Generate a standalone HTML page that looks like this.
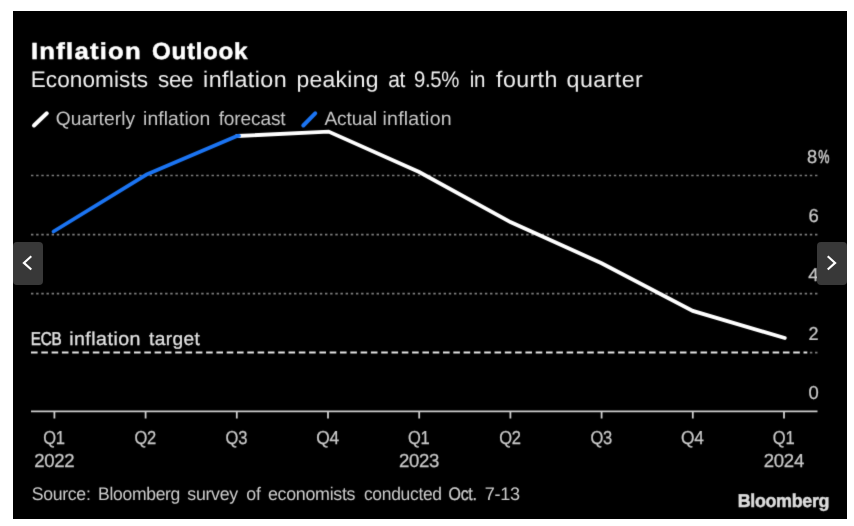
<!DOCTYPE html>
<html>
<head>
<meta charset="utf-8">
<title>Inflation Outlook</title>
<style>
  html, body { margin: 0; padding: 0; background: #ffffff; }
  body { width: 854px; height: 526px; position: relative; overflow: hidden;
         font-family: "Liberation Sans", sans-serif; }
  .panel { position: absolute; left: 13px; top: 11px; width: 834px; height: 507.7px; background: #000; overflow: hidden; }
  svg { position: absolute; left: 0; top: 0; }
  #chart { filter: url(#soft); }
  svg text { font-family: "Liberation Sans", sans-serif; }
  .nav { position: absolute; top: 231px; width: 30px; height: 43px; background: #383838; }
  #navl { left: 0; border-radius: 4px; }
  #navr { right: 0; border-radius: 4px; }
</style>
</head>
<body>
<svg width="0" height="0" style="position:absolute"><defs>
  <filter id="soft" x="0" y="0" width="100%" height="100%" color-interpolation-filters="sRGB">
    <feConvolveMatrix order="3" kernelMatrix="0.0113 0.0838 0.0113 0.0838 0.6196 0.0838 0.0113 0.0838 0.0113" divisor="1" edgeMode="duplicate" preserveAlpha="false"/>
  </filter></defs></svg>
<div class="panel">
  <svg id="chart" width="834" height="508" viewBox="0 0 834 508">
    <!-- grid -->
    <g stroke="#7e7e7e" stroke-width="1.6" stroke-dasharray="2.4 2.758" stroke-dashoffset="0" fill="none">
      <line x1="18" y1="164.55" x2="805.5" y2="164.55"/>
      <line x1="18" y1="223.6" x2="805.5" y2="223.6"/>
      <line x1="18" y1="282.65" x2="805.5" y2="282.65"/>
      <line x1="796.9" y1="341.6" x2="805" y2="341.6" stroke-dashoffset="0"/>
    </g>
    <!-- ECB target -->
    <line x1="18" y1="341.6" x2="794.3" y2="341.6" stroke="#e6e6e6" stroke-width="2" stroke-dasharray="6.6 3.7"/>
    <!-- axis -->
    <line x1="18" y1="400.4" x2="804.5" y2="400.4" stroke="#cccccc" stroke-width="1.9"/>
    <g stroke="#cccccc" stroke-width="1.8">
      <line x1="41.4" y1="400" x2="41.4" y2="407.5"/>
      <line x1="132.6" y1="400" x2="132.6" y2="407.5"/>
      <line x1="223.8" y1="400" x2="223.8" y2="407.5"/>
      <line x1="315" y1="400" x2="315" y2="407.5"/>
      <line x1="406.2" y1="400" x2="406.2" y2="407.5"/>
      <line x1="497.4" y1="400" x2="497.4" y2="407.5"/>
      <line x1="588.6" y1="400" x2="588.6" y2="407.5"/>
      <line x1="679.8" y1="400" x2="679.8" y2="407.5"/>
      <line x1="771" y1="400" x2="771" y2="407.5"/>
    </g>
    <!-- series -->
    <polyline points="224,125 315.6,120.6 406.2,161 497.4,211.1 588.6,252.2 679.8,299.9 771.8,327" fill="none" stroke="#ffffff" stroke-width="3.8" stroke-linejoin="miter" stroke-linecap="round"/>
    <polyline points="40.5,220.5 133,163.8 224,125 226,124.9" fill="none" stroke="#1b74f2" stroke-width="3.8" stroke-linejoin="round" stroke-linecap="round"/>
    <!-- legend swatches -->
    <line x1="21" y1="114.5" x2="33.8" y2="102.3" stroke="#ffffff" stroke-width="4" stroke-linecap="round"/>
    <line x1="290.3" y1="114.5" x2="302.2" y2="102.3" stroke="#1b74f2" stroke-width="4" stroke-linecap="round"/>
<g font-size="23.3" font-weight="bold" fill="#ffffff" stroke="#ffffff" stroke-width="0.45">
<text transform="translate(17.89 48.30) scale(1.1084 1) skewX(0.2)" letter-spacing="1.080">Inflation</text>
<text transform="translate(139.10 48.30) scale(1.0418 1) skewX(0.2)" letter-spacing="0.588">Outlook</text>
</g>
<g font-size="22.5" font-weight="normal" fill="#f0f0f0">
<text transform="translate(17.69 75.80) scale(1.0050 1) skewX(0.2)" letter-spacing="0.064">Economists</text>
<text transform="translate(145.00 75.80) scale(1.0000 1) skewX(0.2)" letter-spacing="-0.332">see</text>
<text transform="translate(190.06 75.80) scale(1.0399 1) skewX(0.2)" letter-spacing="0.364">inflation</text>
<text transform="translate(283.38 75.80) scale(1.0220 1) skewX(0.2)" letter-spacing="0.277">peaking</text>
<text transform="translate(375.20 75.80) scale(0.9393 1) skewX(0.2)" letter-spacing="-0.350">at</text>
<text transform="translate(400.89 75.80) scale(0.9060 1) skewX(0.2)" letter-spacing="-0.350">9.5%</text>
<text transform="translate(456.69 75.80) scale(0.9138 1) skewX(0.2)" letter-spacing="-0.350">in</text>
<text transform="translate(483.10 75.80) scale(1.0323 1) skewX(0.2)" letter-spacing="0.356">fourth</text>
<text transform="translate(553.50 75.80) scale(1.0355 1) skewX(0.2)" letter-spacing="0.411">quarter</text>
</g>
<g font-size="19.2" font-weight="normal" fill="#c8c8c8">
<text transform="translate(42.70 114.40) scale(1.0031 1) skewX(0.2)" letter-spacing="0.030">Quarterly</text>
<text transform="translate(130.09 114.40) scale(1.0088 1) skewX(0.2)" letter-spacing="0.070">inflation</text>
<text transform="translate(205.70 114.40) scale(1.0000 1) skewX(0.2)" letter-spacing="-0.189">forecast</text>
</g>
<g font-size="19.2" font-weight="normal" fill="#c8c8c8">
<text transform="translate(311.50 114.40) scale(1.0000 1) skewX(0.2)" letter-spacing="-0.173">Actual</text>
<text transform="translate(369.48 114.40) scale(1.0235 1) skewX(0.2)" letter-spacing="0.185">inflation</text>
</g>
<g font-size="18.6" font-weight="normal" fill="#e2e2e2" stroke="#e2e2e2" stroke-width="0.25">
<text transform="translate(17.78 334.20) scale(0.8220 1) skewX(0.2)" letter-spacing="-0.350" stroke="#e2e2e2" stroke-width="0.46">ECB</text>
<text transform="translate(56.14 334.20) scale(1.0578 1) skewX(0.2)" letter-spacing="0.429">inflation</text>
<text transform="translate(136.10 334.20) scale(1.0322 1) skewX(0.2)" letter-spacing="0.302">target</text>
</g>
<g font-size="18.2" font-weight="normal" fill="#cdcdcd">
<text transform="translate(18.70 489.10) scale(0.9760 1) skewX(0.2)" letter-spacing="-0.350">Source:</text>
<text transform="translate(85.03 489.10) scale(0.9670 1) skewX(0.2)" letter-spacing="-0.350">Bloomberg</text>
<text transform="translate(174.30 489.10) scale(0.9806 1) skewX(0.2)" letter-spacing="-0.350">survey</text>
<text transform="translate(233.30 489.10) scale(0.9832 1) skewX(0.2)" letter-spacing="-0.350">of</text>
<text transform="translate(255.00 489.10) scale(0.9849 1) skewX(0.2)" letter-spacing="-0.350">economists</text>
<text transform="translate(350.90 489.10) scale(0.9636 1) skewX(0.2)" letter-spacing="-0.350">conducted</text>
<text transform="translate(435.60 489.10) scale(0.8770 1) skewX(0.2)" letter-spacing="-0.350" stroke="#cdcdcd" stroke-width="0.32">Oct.</text>
<text transform="translate(471.80 489.10) scale(1.0000 1) skewX(0.2)" letter-spacing="-0.329">7-13</text>
</g>
<g font-size="18.5" font-weight="bold" fill="#dcdcdc" stroke="#dcdcdc" stroke-width="0.5">
<text transform="translate(724.63 495.90) scale(0.9696 1) skewX(0.2)" letter-spacing="-0.350">Bloomberg</text>
</g>
<g font-size="18.7" font-weight="normal" fill="#c8c8c8" stroke="#c8c8c8" stroke-width="0.25">
<text transform="translate(794.10 152.40) scale(0.9800 1) skewX(0.2)" letter-spacing="0.000">8</text>
<text transform="translate(805.20 152.40) scale(0.6750 1) skewX(0.2)" letter-spacing="0.000" stroke="#c8c8c8" stroke-width="0.60">%</text>
<text transform="translate(795.50 211.30) scale(0.9900 1) skewX(0.2)" letter-spacing="0.000">6</text>
<text transform="translate(795.30 270.30) scale(1.0100 1) skewX(0.2)" letter-spacing="0.000">4</text>
<text transform="translate(795.50 329.40) scale(0.9700 1) skewX(0.2)" letter-spacing="0.000">2</text>
<text transform="translate(795.50 388.40) scale(0.9900 1) skewX(0.2)" letter-spacing="0.000">0</text>
</g>
<g font-size="18.8" font-weight="normal" fill="#c8c8c8" stroke="#c8c8c8" stroke-width="0.25">
<text transform="translate(30.20 432.50) scale(0.8822 1) skewX(0.2)" letter-spacing="-0.350">Q1</text>
<text transform="translate(121.40 432.50) scale(0.8822 1) skewX(0.2)" letter-spacing="-0.350">Q2</text>
<text transform="translate(212.60 432.50) scale(0.8822 1) skewX(0.2)" letter-spacing="-0.350">Q3</text>
<text transform="translate(303.25 432.50) scale(0.9275 1) skewX(0.2)" letter-spacing="-0.350">Q4</text>
<text transform="translate(395.00 432.50) scale(0.8822 1) skewX(0.2)" letter-spacing="-0.350">Q1</text>
<text transform="translate(486.20 432.50) scale(0.8822 1) skewX(0.2)" letter-spacing="-0.350">Q2</text>
<text transform="translate(577.40 432.50) scale(0.8822 1) skewX(0.2)" letter-spacing="-0.350">Q3</text>
<text transform="translate(668.05 432.50) scale(0.9275 1) skewX(0.2)" letter-spacing="-0.350">Q4</text>
<text transform="translate(759.80 432.50) scale(0.8822 1) skewX(0.2)" letter-spacing="-0.350">Q1</text>
<text transform="translate(21.20 456.00) scale(0.9929 1) skewX(0.2)" letter-spacing="-0.350">2022</text>
<text transform="translate(386.00 456.00) scale(0.9929 1) skewX(0.2)" letter-spacing="-0.350">2023</text>
<text transform="translate(750.80 456.00) scale(0.9929 1) skewX(0.2)" letter-spacing="-0.350">2024</text>
</g>
  </svg>

  <div class="nav" id="navl">
    <svg width="30" height="43" viewBox="0 0 30 43"><polyline points="18.3,14.3 10.9,20.9 18.3,27.5" fill="none" stroke="#fff" stroke-width="2.1"/></svg>
  </div>
  <div class="nav" id="navr">
    <svg width="30" height="43" viewBox="0 0 30 43"><polyline points="10.7,14.3 18.1,20.9 10.7,27.5" fill="none" stroke="#fff" stroke-width="2.1"/></svg>
  </div>
</div>
</body>
</html>
